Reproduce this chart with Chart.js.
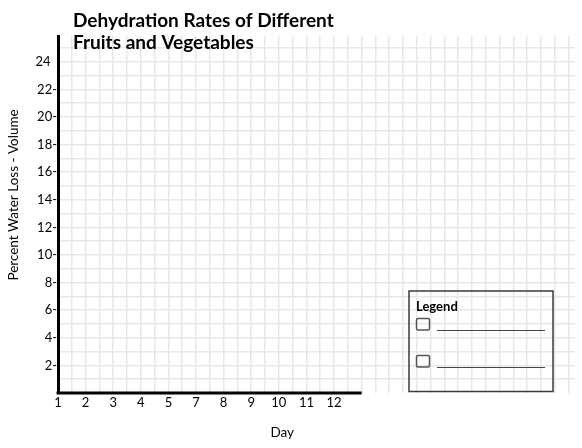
<!DOCTYPE html>
<html>
<head>
<meta charset="utf-8">
<script src="https://cdn.jsdelivr.net/npm/chart.js@4.4.1/dist/chart.umd.min.js"></script>
<style>
  html, body { margin: 0; padding: 0; background: #ffffff; }
  #wrap { width: 582px; height: 448px; position: relative; }
</style>
</head>
<body>
<div id="wrap"><canvas id="c" width="582" height="448"></canvas></div>
<script>
// ---- chart content ----
const chartTitle = ['Dehydration Rates of Different', 'Fruits and Vegetables'];
const xAxisTitle = 'Day';
const yAxisTitle = 'Percent Water Loss - Volume';
const xTickLabels = ['1', '2', '3', '4', '5', '7', '8', '9', '10', '11', '12'];
const yTickValues = [2, 4, 6, 8, 10, 12, 14, 16, 18, 20, 22, 24];
const yTickLabels = ['2-', '4-', '6-', '8-', '10-', '12-', '14-', '16-', '18-', '20-', '22-', '24'];
const legendTitle = 'Legend';
const seriesNames = ['', ''];
const seriesOne = [];
const seriesTwo = [];

const FONT = 'Lato, "DejaVu Sans", sans-serif';
const gridCellsPerLabel = 2;
const xAxisEndCell = 22;
const xMax = 37.46;
const yMax = 25.87;

const overlay = {
  id: 'overlay',
  afterDraw(chart) {
    const ctx = chart.ctx;
    const xs = chart.scales.x, ys = chart.scales.y;
    ctx.save();
    // x axis line (only the drawn part)
    ctx.strokeStyle = '#000';
    ctx.lineWidth = 3;
    ctx.beginPath();
    ctx.moveTo(xs.getPixelForValue(0) - 1.5, ys.getPixelForValue(0));
    ctx.lineTo(xs.getPixelForValue(xAxisEndCell), ys.getPixelForValue(0));
    ctx.stroke();

    // title
    ctx.fillStyle = '#000';
    ctx.textAlign = 'left';
    ctx.textBaseline = 'alphabetic';
    ctx.font = 'bold 19px ' + FONT;
    ctx.fillText(chartTitle[0], 73, 26.5);
    ctx.fillText(chartTitle[1], 73, 49);

    // axis titles
    ctx.font = '13.5px ' + FONT;
    ctx.textAlign = 'center';
    ctx.textBaseline = 'middle';
    ctx.fillText(xAxisTitle, xs.getPixelForValue(16.25), 433);
    ctx.save();
    ctx.translate(14, ys.getPixelForValue(14.35));
    ctx.rotate(-Math.PI / 2);
    ctx.fillText(yAxisTitle, 0, 0);
    ctx.restore();

    // legend box
    const bx = 409, by = 291, bw = 144, bh = 100.5;
    ctx.strokeStyle = '#3a3a3a';
    ctx.lineWidth = 1.5;
    ctx.strokeRect(bx, by, bw, bh);
    ctx.font = 'bold 13px ' + FONT;
    ctx.textAlign = 'left';
    ctx.textBaseline = 'alphabetic';
    ctx.fillStyle = '#000';
    ctx.fillText(legendTitle, bx + 7, by + 19.5);
    seriesNames.forEach((name, i) => {
      const top = by + 27.5 + i * 37;
      ctx.strokeStyle = '#555';
      ctx.lineWidth = 1.5;
      ctx.beginPath();
      if (ctx.roundRect) ctx.roundRect(bx + 7.5, top, 13, 11.5, 1.5); else ctx.rect(bx + 7.5, top, 13, 11.5);
      ctx.stroke();
      ctx.strokeStyle = '#444';
      ctx.lineWidth = 1;
      ctx.beginPath();
      ctx.moveTo(bx + 28, top + 12);
      ctx.lineTo(bx + 136, top + 12);
      ctx.stroke();
      if (name) ctx.fillText(name, bx + 30, top + 10);
    });
    ctx.restore();
  }
};

new Chart(document.getElementById('c'), {
  type: 'scatter',
  data: {
    datasets: [
      { label: seriesNames[0], data: seriesOne },
      { label: seriesNames[1], data: seriesTwo }
    ]
  },
  options: {
    responsive: false,
    animation: false,
    devicePixelRatio: 1,
    layout: { padding: { top: 36, right: 7, left: 0, bottom: 0 } },
    plugins: { legend: { display: false }, title: { display: false }, tooltip: { enabled: false } },
    scales: {
      x: {
        type: 'linear',
        min: 0,
        max: xMax,
        afterFit(s) { s.height = 55; },
        border: { display: false },
        grid: {
          drawTicks: false,
          lineWidth: 1.5,
          color: (c) => (c.tick && c.tick.value === 0) ? 'rgba(0,0,0,0)' : '#e7e7e7'
        },
        ticks: {
          stepSize: 1,
          includeBounds: false,
          autoSkip: false,
          maxRotation: 0,
          padding: 2,
          color: '#000',
          font: { family: FONT, size: 13 },
          callback: (v) => {
            if (v % gridCellsPerLabel !== 0) return '';
            const i = v / gridCellsPerLabel;
            return i < xTickLabels.length ? xTickLabels[i] : '';
          }
        }
      },
      y: {
        type: 'linear',
        min: 0,
        max: yMax,
        afterFit(s) { s.width = 58; },
        border: { display: true, color: '#000', width: 3 },
        grid: {
          drawTicks: false,
          lineWidth: 1.5,
          color: (c) => (c.tick && c.tick.value === 0) ? 'rgba(0,0,0,0)' : '#e7e7e7'
        },
        ticks: {
          stepSize: 1,
          includeBounds: false,
          autoSkip: false,
          padding: 1,
          color: '#000',
          font: { family: FONT, size: 13 },
          callback: (v) => {
            const i = yTickValues.indexOf(v);
            if (i < 0) return '';
            const t = yTickLabels[i];
            return t.endsWith('-') ? t : t + '\u2002';
          }
        }
      }
    }
  },
  plugins: [overlay]
});
</script>
</body>
</html>
